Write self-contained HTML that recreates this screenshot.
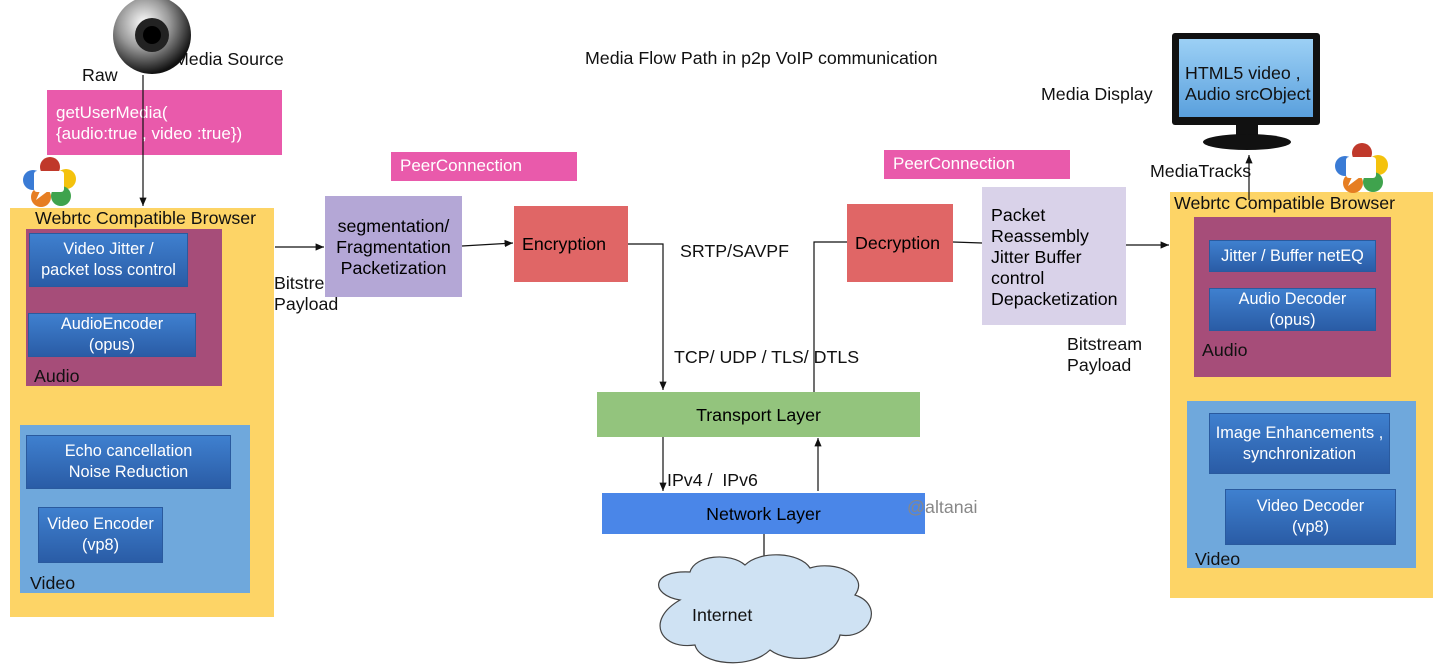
<!DOCTYPE html>
<html><head><meta charset="utf-8"><style>
body{margin:0;width:1440px;height:670px;background:#fff;position:relative;overflow:hidden;font-family:"Liberation Sans",sans-serif;}
.a{position:absolute;box-sizing:border-box;}
.t{position:absolute;font-size:17.8px;color:#111;white-space:nowrap;line-height:21px;}
.b{position:absolute;box-sizing:border-box;background:linear-gradient(#3f80cf,#2a5ca6);color:#fff;font-size:16.3px;text-align:center;display:flex;align-items:center;justify-content:center;line-height:21px;border:1px solid #2a5a9e;white-space:nowrap;}
.p{position:absolute;background:#e95aab;color:#fff;font-size:17px;}
</style></head><body>
<div class="a" style="left:10px;top:208px;width:264px;height:409px;background:#fdd466"></div>
<div class="a" style="left:26px;top:229px;width:196px;height:157px;background:#a64d79"></div>
<div class="b" style="left:29px;top:233px;width:159px;height:54px">Video Jitter /<br>packet loss control</div>
<div class="b" style="left:28px;top:313px;width:168px;height:44px">AudioEncoder<br>(opus)</div>
<div class="t" style="left:34px;top:366px">Audio</div>
<div class="a" style="left:20px;top:425px;width:230px;height:168px;background:#6fa8dc"></div>
<div class="b" style="left:26px;top:435px;width:205px;height:54px">Echo cancellation<br>Noise Reduction</div>
<div class="b" style="left:38px;top:507px;width:125px;height:56px">Video Encoder<br>(vp8)</div>
<div class="t" style="left:30px;top:573px">Video</div>
<div class="t" style="left:35px;top:208px">Webrtc Compatible Browser</div>
<div class="p" style="left:47px;top:90px;width:235px;height:65px;padding:12px 0 0 9px;box-sizing:border-box;line-height:21px">getUserMedia(<br>{audio:true , video :true})</div>
<div class="t" style="left:82px;top:65px">Raw</div>
<div class="t" style="left:174px;top:49px">Media Source</div>
<div class="t" style="left:274px;top:273px">Bitstre</div>
<div class="t" style="left:274px;top:294px">Payload</div>
<div class="a" style="left:325px;top:196px;width:137px;height:101px;background:#b4a7d6;font-size:17.8px;text-align:center;padding-top:20px;line-height:21px;white-space:nowrap">segmentation/<br>Fragmentation<br>Packetization</div>
<div class="p" style="left:391px;top:152px;width:186px;height:29px;padding:4px 0 0 9px;box-sizing:border-box">PeerConnection</div>
<div class="a" style="left:514px;top:206px;width:114px;height:76px;background:#e06666;font-size:17.8px;padding:28px 0 0 8px">Encryption</div>
<div class="t" style="left:585px;top:48px">Media Flow Path in p2p VoIP communication</div>
<div class="t" style="left:680px;top:241px">SRTP/SAVPF</div>
<div class="t" style="left:674px;top:347px">TCP/ UDP / TLS/ DTLS</div>
<div class="a" style="left:597px;top:392px;width:323px;height:45px;background:#93c47d;font-size:17.8px;text-align:center;padding-top:13px">Transport Layer</div>
<div class="a" style="left:602px;top:493px;width:323px;height:41px;background:#4a86e8;font-size:17.8px;text-align:center;padding-top:11px">Network Layer</div>
<div class="t" style="left:667px;top:470px">IPv4 /&nbsp; IPv6</div>
<div class="t" style="left:907px;top:497px;color:#888">@altanai</div>
<div class="a" style="left:847px;top:204px;width:106px;height:78px;background:#e06666;font-size:17.8px;padding:29px 0 0 8px">Decryption</div>
<div class="p" style="left:884px;top:150px;width:186px;height:29px;padding:4px 0 0 9px;box-sizing:border-box">PeerConnection</div>
<div class="a" style="left:982px;top:187px;width:144px;height:138px;background:#d9d2e9;font-size:17.8px;padding:18px 0 0 9px;line-height:21px;white-space:nowrap">Packet<br>Reassembly<br>Jitter Buffer<br>control<br>Depacketization</div>
<div class="t" style="left:1067px;top:334px">Bitstream</div>
<div class="t" style="left:1067px;top:355px">Payload</div>
<div class="t" style="left:1041px;top:84px">Media Display</div>
<div class="a" style="left:1170px;top:192px;width:263px;height:406px;background:#fdd466"></div>
<div class="a" style="left:1194px;top:217px;width:197px;height:160px;background:#a64d79"></div>
<div class="b" style="left:1209px;top:240px;width:167px;height:32px">Jitter / Buffer netEQ</div>
<div class="b" style="left:1209px;top:288px;width:167px;height:43px">Audio Decoder<br>(opus)</div>
<div class="t" style="left:1202px;top:340px">Audio</div>
<div class="a" style="left:1187px;top:401px;width:229px;height:167px;background:#6fa8dc"></div>
<div class="b" style="left:1209px;top:413px;width:181px;height:61px">Image Enhancements ,<br>synchronization</div>
<div class="b" style="left:1225px;top:489px;width:171px;height:56px">Video Decoder<br>(vp8)</div>
<div class="t" style="left:1195px;top:549px">Video</div>
<div class="t" style="left:1174px;top:193px">Webrtc Compatible Browser</div>
<div class="t" style="left:1150px;top:161px">MediaTracks</div>
<svg class="a" style="left:0;top:0" width="1440" height="670">
<defs><marker id="m" markerWidth="8" markerHeight="8" refX="7" refY="4" orient="auto"><path d="M0,1 L7,4 L0,7z" fill="#111"/></marker>
<radialGradient id="cam" cx="0.4" cy="0.35" r="0.65"><stop offset="0" stop-color="#fff"/><stop offset="0.5" stop-color="#999"/><stop offset="1" stop-color="#111"/></radialGradient>
<linearGradient id="scr" x1="0" y1="0" x2="0" y2="1"><stop offset="0" stop-color="#9cd0f5"/><stop offset="1" stop-color="#5aa0dd"/></linearGradient></defs>
<circle cx="152" cy="35" r="39" fill="url(#cam)"/>
<circle cx="152" cy="35" r="17" fill="#222"/><circle cx="152" cy="35" r="9" fill="#000"/>
<g transform="translate(50,182)"><circle cx="0" cy="-15" r="10" fill="#c0392b"/><circle cx="16" cy="-3" r="10" fill="#f4c20d"/><circle cx="11" cy="14" r="10" fill="#3fa34d"/><circle cx="-9" cy="15" r="10" fill="#e67e22"/><circle cx="-17" cy="-2" r="10" fill="#3a7bd5"/><rect x="-16" y="-11" width="30" height="21" rx="3" fill="#fff"/><path d="M-10,9 L-14,18 L-2,9z" fill="#fff"/></g>
<g transform="translate(1362,168)"><circle cx="0" cy="-15" r="10" fill="#c0392b"/><circle cx="16" cy="-3" r="10" fill="#f4c20d"/><circle cx="11" cy="14" r="10" fill="#3fa34d"/><circle cx="-9" cy="15" r="10" fill="#e67e22"/><circle cx="-17" cy="-2" r="10" fill="#3a7bd5"/><rect x="-16" y="-11" width="30" height="21" rx="3" fill="#fff"/><path d="M-10,9 L-14,18 L-2,9z" fill="#fff"/></g>
<rect x="1172" y="33" width="148" height="92" rx="3" fill="#111"/>
<rect x="1179" y="39" width="134" height="78" fill="url(#scr)"/>
<rect x="1236" y="125" width="22" height="12" fill="#111"/>
<ellipse cx="1247" cy="142" rx="44" ry="8" fill="#111"/>
<text x="1185" y="79" font-size="17.8" font-family="Liberation Sans" fill="#111">HTML5 video ,</text>
<text x="1185" y="100" font-size="17.8" font-family="Liberation Sans" fill="#111">Audio srcObject</text>
<g stroke="#111" stroke-width="1.2" fill="none">
<line x1="143" y1="75" x2="143" y2="206" marker-end="url(#m)"/>
<line x1="275" y1="247" x2="324" y2="247" marker-end="url(#m)"/>
<line x1="462" y1="246" x2="513" y2="243" marker-end="url(#m)"/>
<polyline points="628,244 663,244 663,390" marker-end="url(#m)"/>
<line x1="663" y1="437" x2="663" y2="491" marker-end="url(#m)"/>
<line x1="818" y1="491" x2="818" y2="438" marker-end="url(#m)"/>
<polyline points="814,392 814,242 847,242"/>
<line x1="953" y1="242" x2="982" y2="243"/>
<line x1="1126" y1="245" x2="1169" y2="245" marker-end="url(#m)"/>
<line x1="1249" y1="200" x2="1249" y2="155" marker-end="url(#m)"/>
<line x1="764" y1="534" x2="764" y2="568"/>
</g>
<path d="M680,600 C650,595 650,570 690,572 C695,555 730,552 745,565 C760,550 800,552 810,568 C835,560 870,575 855,595 C885,605 870,640 840,635 C835,660 790,665 770,650 C750,670 700,665 695,645 C660,650 645,620 680,600z" fill="#cfe2f3" stroke="#444" stroke-width="1.2"/>
<text x="692" y="621" font-size="17.8" font-family="Liberation Sans" fill="#111">Internet</text>
</svg>
</body></html>
